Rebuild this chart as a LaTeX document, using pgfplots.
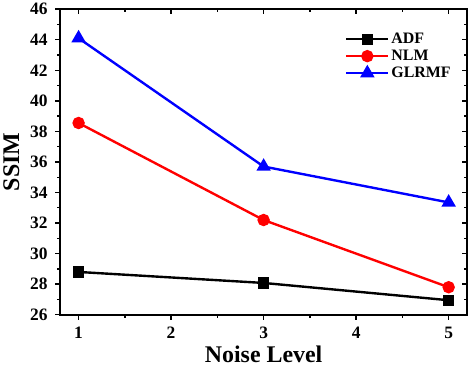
\documentclass[border=0pt]{standalone}
\usepackage{pgfplots}
\pgfplotsset{compat=1.18}
\usepackage{fontspec}
\setmainfont{Liberation Serif}
\begin{document}
\begin{tikzpicture}
\pgfplotsset{
  common/.style={
    scale only axis, width=409pt, height=307pt,
    xmin=0.8, xmax=5.2, ymin=26, ymax=46,
    xtick={1,2,3,4,5}, ytick={26,28,...,46},
    minor x tick num=1, minor y tick num=1,
    major tick length=5pt, minor tick length=3pt,
    every tick/.style={black, line width=1.4pt},
  }
}
\begin{axis}[common,
  axis line style={line width=2pt},
  tick align=outside,
  xtick pos=bottom, ytick pos=left,
  /pgf/number format/assume math mode=true,
  ticklabel style={font=\fontsize{17.5}{19}\selectfont\bfseries},
  xticklabel style={yshift=-4pt},
  yticklabel style={xshift=-4pt},
  xlabel={Noise Level}, ylabel={SSIM},
  label style={font=\fontsize{24}{26}\selectfont\bfseries},
  xlabel style={yshift=0pt, text depth=2pt},
  ylabel style={yshift=4pt},
  legend style={draw=none, fill=none, at={(0.7,0.935)}, anchor=north west,
    font=\fontsize{16}{18}\selectfont\bfseries, row sep=1pt, inner xsep=0pt},
  legend cell align=left,
  legend image code/.code={
    \draw[#1, mark repeat=2, mark phase=2] plot coordinates {(0pt,0pt) (21pt,0pt) (42pt,0pt)};
  },
]
\addplot[black, line width=2.4pt, mark=square*, mark size=4.5pt] coordinates {(1,28.8) (3,28.08) (5,26.95)};
\addlegendentry{ADF}
\addplot[red, line width=2.4pt, mark=*, mark size=5pt] coordinates {(1,38.55) (3,32.2) (5,27.8)};
\addlegendentry{NLM}
\addplot[blue, line width=2.4pt, mark=triangle*, mark size=6pt] coordinates {(1,44.1) (3,35.7) (5,33.35)};
\addlegendentry{GLRMF}
\end{axis}
\begin{axis}[common,
  axis line style={draw=none},
  tick align=inside,
  xtick pos=top, ytick pos=right,
  xticklabels={}, yticklabels={},
]
\addplot[draw=none] coordinates {(1,30)};
\end{axis}
\end{tikzpicture}
\end{document}
